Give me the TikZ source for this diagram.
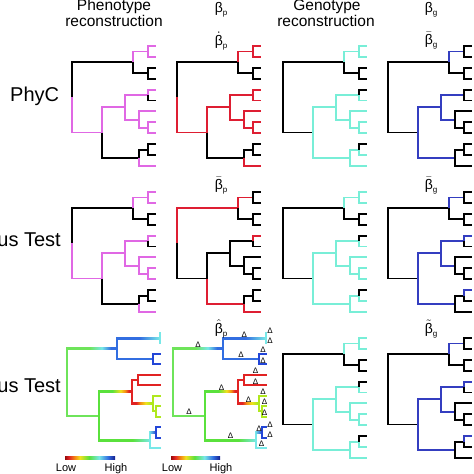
\documentclass[tikz,border=0pt]{standalone}
\usepackage{fontspec}
\setmainfont{Liberation Sans}
\usepackage{amsmath}
\usetikzlibrary{calc}
\definecolor{cmag}{RGB}{224,104,228}
\definecolor{cred}{RGB}{222,30,50}
\definecolor{ccyan}{RGB}{120,238,215}
\definecolor{cblue}{RGB}{52,62,192}
\definecolor{jdr}{RGB}{150,10,10}
\definecolor{jr}{RGB}{225,35,35}
\definecolor{jo}{RGB}{245,140,20}
\definecolor{jy}{RGB}{240,225,30}
\definecolor{jyg}{RGB}{175,232,30}
\definecolor{jg}{RGB}{110,228,90}
\definecolor{jgg}{RGB}{90,225,60}
\definecolor{jc}{RGB}{120,232,232}
\definecolor{jb}{RGB}{50,110,225}
\definecolor{jdb}{RGB}{35,70,215}
\definecolor{jnv}{RGB}{20,30,140}
\pgfdeclarehorizontalshading{jetbar}{100bp}{color(0bp)=(jdr); color(25bp)=(jdr); color(29bp)=(jr); color(35bp)=(jo); color(40bp)=(jy); color(49bp)=(jgg); color(59bp)=(jc); color(68bp)=(jb); color(75bp)=(jnv); color(100bp)=(jnv)}
\pgfdeclarehorizontalshading{gRA}{100bp}{color(0bp)=(jg); color(48bp)=(jg); color(60bp)=(jc); color(69bp)=(jb); color(100bp)=(jb)}
\pgfdeclarehorizontalshading{gAA}{100bp}{color(0bp)=(jb); color(52bp)=(jb); color(75bp)=(jc); color(100bp)=(jc)}
\pgfdeclarehorizontalshading{gBC}{100bp}{color(0bp)=(jgg); color(46bp)=(jgg); color(58bp)=(jy); color(65bp)=(jo); color(70bp)=(jr); color(100bp)=(jr)}
\pgfdeclarehorizontalshading{gCC}{100bp}{color(0bp)=(jr); color(37bp)=(jr); color(46bp)=(jo); color(58bp)=(jy); color(70bp)=(jyg); color(100bp)=(jyg)}
\pgfdeclarehorizontalshading{gBD}{100bp}{color(0bp)=(jgg); color(58bp)=(jgg); color(75bp)=(jc); color(100bp)=(jc)}
\pgfdeclarehorizontalshading{gDQ}{100bp}{color(0bp)=(jc); color(25bp)=(jc); color(75bp)=(jdb); color(100bp)=(jdb)}
\tikzset{
  tree/.style={line width=1.9pt, draw=black},
  ptree/.style={line width=2pt},
  kmag/.style={draw=cmag}, kred/.style={draw=cred}, kcya/.style={draw=ccyan}, kblu/.style={draw=cblue},
  eA/.style={}, eB/.style={}, eAa/.style={}, eAb/.style={}, eC/.style={}, eD/.style={},
  eCa/.style={}, eCb/.style={}, eP/.style={}, eQ/.style={},
  eL1/.style={}, eL2/.style={}, eL3/.style={}, eL4/.style={}, eL5/.style={}, eL6/.style={},
  eL7/.style={}, eL8/.style={}, eL9/.style={}, eL10/.style={}, eL11/.style={}, eL12/.style={},
  lbl/.style={font=\fontsize{20}{20}\selectfont, inner sep=0pt},
  hdr/.style={font=\fontsize{15.5}{15.5}\selectfont, inner sep=0pt, anchor=base},
  bet/.style={font=\fontsize{14}{14}\selectfont, inner sep=0pt},
  leg/.style={font=\fontsize{11}{11}\selectfont, inner sep=0pt, anchor=base},
  tri/.style={font=\fontsize{8}{8}\selectfont, inner sep=0pt, anchor=south, yshift=1pt}
}
\newcommand\bt[2]{$#1{\text{β}}$\raisebox{-3.5pt}{\fontsize{8}{8}\selectfont #2}}
% cladogram: prefix, root x, first leaf y
\newcommand\clade[3]{%
\begin{scope}[shift={(#2,#3)}]
 \coordinate (#1R) at (0,51.43);
 \coordinate (#1A) at (61,16.35);
 \coordinate (#1Aa) at (76,5.45);
 \coordinate (#1Ab) at (76,27.25);
 \coordinate (#1B) at (30,86.52);
 \coordinate (#1C) at (53,61.31);
 \coordinate (#1Ca) at (76,49.05);
 \coordinate (#1Cb) at (67,73.58);
 \coordinate (#1P) at (76,81.75);
 \coordinate (#1D) at (67,111.73);
 \coordinate (#1Q) at (76,103.55);
 \foreach \k in {1,...,12} {\coordinate (#1L\k) at (84,{(\k-1)*10.9});}
\end{scope}
\draw[tree,eA] (#1R) |- (#1A);
\draw[tree,eB] (#1R) |- (#1B);
\draw[tree,eAa] (#1A) |- (#1Aa);
\draw[tree,eAb] (#1A) |- (#1Ab);
\draw[tree,eL1] (#1Aa) |- (#1L1);
\draw[tree,eL2] (#1Aa) |- (#1L2);
\draw[tree,eL3] (#1Ab) |- (#1L3);
\draw[tree,eL4] (#1Ab) |- (#1L4);
\draw[tree,eC] (#1B) |- (#1C);
\draw[tree,eD] (#1B) |- (#1D);
\draw[tree,eCa] (#1C) |- (#1Ca);
\draw[tree,eCb] (#1C) |- (#1Cb);
\draw[tree,eL5] (#1Ca) |- (#1L5);
\draw[tree,eL6] (#1Ca) |- (#1L6);
\draw[tree,eL7] (#1Cb) |- (#1L7);
\draw[tree,eP] (#1Cb) |- (#1P);
\draw[tree,eL8] (#1P) |- (#1L8);
\draw[tree,eL9] (#1P) |- (#1L9);
\draw[tree,eQ] (#1D) |- (#1Q);
\draw[tree,eL12] (#1D) |- (#1L12);
\draw[tree,eL10] (#1Q) |- (#1L10);
\draw[tree,eL11] (#1Q) |- (#1L11);
}
% gradient branch: parent, child, vertical colour, shading
\newcommand\gbr[4]{%
\draw[ptree,draw=#3] (#1) -- (#1|-#2);
\shade[shading=#4] ($(#1|-#2)+(-1,-1)$) rectangle ($(#2)+(0,1)$);}
% phylogram: prefix, root x
\newcommand\phylo[2]{%
\begin{scope}[shift={(#2,0)}]
 \coordinate (#1R) at (0,382.3);
 \coordinate (#1A) at (50,348.7);
 \coordinate (#1Aa) at (92.5,338.2);
 \coordinate (#1Ab) at (86,359.1);
 \coordinate (#1B) at (32,416);
 \coordinate (#1C) at (65,391.8);
 \coordinate (#1Ca) at (71,380);
 \coordinate (#1Cb) at (86,403.5);
 \coordinate (#1P) at (89,411.4);
 \coordinate (#1D) at (83,440.1);
 \coordinate (#1Q) at (89,432.3);
 \foreach \k in {1,...,12} {\coordinate (#1L\k) at (94,{333+(\k-1)*10.45});}
\end{scope}
\gbr{#1R}{#1A}{jg}{gRA}
\draw[ptree,draw=jg] (#1R) |- (#1B);
\gbr{#1A}{#1Aa}{jb}{gAA}
\draw[ptree,draw=jb] (#1A) |- (#1Ab);
\draw[ptree,draw=jc] (#1Aa) |- (#1L1);
\draw[ptree,draw=jc] (#1Aa) |- (#1L2);
\draw[ptree,draw=jdb] (#1Ab) |- (#1L3);
\draw[ptree,draw=jdb] (#1Ab) |- (#1L4);
\gbr{#1B}{#1C}{jgg}{gBC}
\gbr{#1B}{#1D}{jgg}{gBD}
\draw[ptree,draw=jr] (#1C) |- (#1Ca);
\draw[ptree,draw=jr] (#1Ca) |- (#1L5);
\draw[ptree,draw=jr] (#1Ca) |- (#1L6);
\gbr{#1C}{#1Cb}{jr}{gCC}
\draw[ptree,draw=jyg] (#1Cb) |- (#1L7);
\draw[ptree,draw=jyg] (#1Cb) |- (#1P);
\draw[ptree,draw=jyg] (#1P) |- (#1L8);
\draw[ptree,draw=jyg] (#1P) |- (#1L9);
\gbr{#1D}{#1Q}{jc}{gDQ}
\draw[ptree,draw=jc] (#1D) |- (#1L12);
\draw[ptree,draw=jdb] (#1Q) |- (#1L10);
\draw[ptree,draw=jdb] (#1Q) |- (#1L11);
}
\begin{document}
\begin{tikzpicture}[x=1pt,y=-1pt]
\path[use as bounding box] (0,0) rectangle (474,474);
% headers
\node[hdr] (ph1) at (114,10.5) {Phenotype};
\node[hdr] (ph2) at (114,26.5) {reconstruction};
\node[hdr] (gh1) at (327,10.5) {Genotype};
\node[hdr] (gh2) at (326,26.5) {reconstruction};
\node[bet] (bp0) at (221,10) {\bt{}{p}};
\node[bet] (bg0) at (431,10) {\bt{}{g}};
% row labels
\node[lbl, anchor=base west] (l1) at (10,101) {PhyC};
\node[lbl, anchor=base east] (l2) at (61,246) {us Test};
\node[lbl, anchor=base east] (l3) at (61,392) {us Test};
% row 1
\begin{scope}[eAa/.style=kmag, eL1/.style=kmag, eL2/.style=kmag, eB/.style=kmag, eC/.style=kmag, eCa/.style=kmag, eL5/.style=kmag, eCb/.style=kmag, eL7/.style=kmag, eP/.style=kmag, eL8/.style=kmag, eL9/.style=kmag, eL12/.style=kmag]
\clade{a}{72}{46}
\end{scope}
\begin{scope}[eB/.style=kred, eAa/.style=kred, eL1/.style=kred, eL2/.style=kred, eC/.style=kred, eCa/.style=kred, eL5/.style=kred, eL6/.style=kred, eCb/.style=kred, eL7/.style=kred, eP/.style=kred, eL8/.style=kred, eL9/.style=kred, eL12/.style=kred]
\clade{b}{177}{46}
\end{scope}
\begin{scope}[eAa/.style=kcya, eL1/.style=kcya, eL2/.style=kcya, eC/.style=kcya, eCa/.style=kcya, eL6/.style=kcya, eCb/.style=kcya, eL7/.style=kcya, eP/.style=kcya, eL8/.style=kcya, eL9/.style=kcya, eD/.style=kcya, eL12/.style=kcya, eQ/.style=kcya, eL11/.style=kcya]
\clade{c}{283}{46}
\end{scope}
\begin{scope}[eAa/.style=kblu, eC/.style=kblu, eCa/.style=kblu, eCb/.style=kblu, eD/.style=kblu]
\clade{d}{388}{46}
\end{scope}
\node[bet] (bp1) at (221,41) {\bt{\dot}{p}};
\node[bet] (bg1) at (431,41) {\bt{\bar}{g}};
% row 2
\begin{scope}[eAa/.style=kmag, eL1/.style=kmag, eL2/.style=kmag, eB/.style=kmag, eC/.style=kmag, eCa/.style=kmag, eL5/.style=kmag, eCb/.style=kmag, eL7/.style=kmag, eP/.style=kmag, eL8/.style=kmag, eL9/.style=kmag, eL12/.style=kmag]
\clade{e}{72}{192}
\end{scope}
\begin{scope}[eA/.style=kred, eAa/.style=kred, eD/.style=kred, eL12/.style=kred, eL5/.style=kred]
\clade{f}{177}{192}
\end{scope}
\begin{scope}[eAa/.style=kcya, eL1/.style=kcya, eL2/.style=kcya, eC/.style=kcya, eCa/.style=kcya, eL6/.style=kcya, eCb/.style=kcya, eL7/.style=kcya, eP/.style=kcya, eL8/.style=kcya, eL9/.style=kcya, eD/.style=kcya, eL12/.style=kcya, eQ/.style=kcya, eL11/.style=kcya]
\clade{g}{283}{192}
\end{scope}
\begin{scope}[eAa/.style=kblu, eC/.style=kblu, eCa/.style=kblu, eL5/.style=kblu, eCb/.style=kblu, eD/.style=kblu, eL10/.style=kblu]
\clade{h}{388}{192}
\end{scope}
\node[bet] (bp2) at (221,186) {\bt{\bar}{p}};
\node[bet] (bg2) at (431,186) {\bt{\bar}{g}};
% row 3
\phylo{p}{67}
\phylo{q}{173}
\begin{scope}[eAa/.style=kcya, eL1/.style=kcya, eL2/.style=kcya, eC/.style=kcya, eCa/.style=kcya, eL6/.style=kcya, eCb/.style=kcya, eL7/.style=kcya, eP/.style=kcya, eL8/.style=kcya, eL9/.style=kcya, eD/.style=kcya, eL12/.style=kcya, eQ/.style=kcya, eL11/.style=kcya]
\clade{k}{283}{338}
\end{scope}
\begin{scope}[eAa/.style=kblu, eC/.style=kblu, eCa/.style=kblu, eL5/.style=kblu, eCb/.style=kblu, eD/.style=kblu, eL10/.style=kblu]
\clade{m}{388}{338}
\end{scope}
\node[bet] (bp3) at (221,329) {\bt{\hat}{p}};
\node[bet] (bg3) at (431,329) {\bt{\tilde}{g}};
% deltas on the beta-hat tree
\foreach \u/\v [count=\i] in {qR/qA, qA/qAa, qA/qAb, qR/qB, qB/qC, qB/qD, qC/qCb, qD/qQ, qAb/qL3, qAb/qL4, qCa/qL5, qCa/qL6, qCb/qL7, qP/qL8, qP/qL9, qD/qL12}
  \node[tri] (t\i) at ($(\u|-\v)!.5!(\v)$) {Δ};
\foreach \v [count=\i from 17] in {qL1, qL2, qL10, qL11}
  \node[tri] (t\i) at ($(\v)+(3,1.5)$) {Δ};
% legends
\shade[shading=jetbar] (65,456.5) rectangle (115,459.5);
\shade[shading=jetbar] (171,456.5) rectangle (220,459.5);
\node[leg] (lo1) at (66,471) {Low};
\node[leg] (hi1) at (116,471) {High};
\node[leg] (lo2) at (172,471) {Low};
\node[leg] (hi2) at (221,471) {High};
\end{tikzpicture}
\end{document}
